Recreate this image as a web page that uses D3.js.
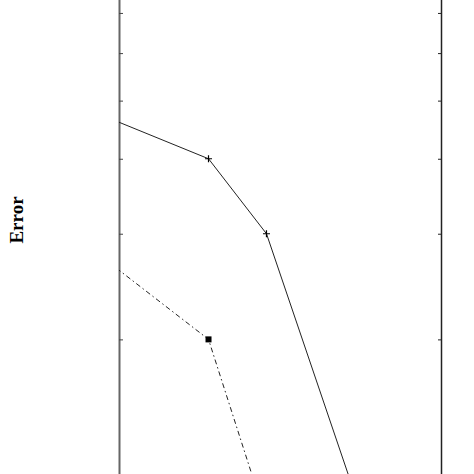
<!DOCTYPE html>
<html>
<head>
<meta charset="utf-8">
<script src="https://cdn.jsdelivr.net/npm/d3@7"></script>
<style>
  body { margin: 0; background: #fff; }
  svg { display: block; }
</style>
</head>
<body>
<svg width="474" height="474"></svg>
<script>
// values (log y axis, crop of a larger figure)
const xVals = [-1, 2.78, 4.58, 7.6];
const errSolid = [4.84, 4.0, 3.0, 1.0];
const errDashDot = [2.87, 2.0, 1.0];
const yTicks = [2, 3, 4, 5, 6, 7];

const svg = d3.select('svg');

const x = d3.scaleLinear().domain([0, 10]).range([119, 441]);
const y = d3.scaleLog().domain([1, 10]).range([520, -80]);

svg.append('rect').attr('width', 474).attr('height', 474).attr('fill', '#fff');

svg.append('clipPath').attr('id', 'plot')
    .append('rect')
    .attr('x', x(0)).attr('y', -100)
    .attr('width', x(10) - x(0)).attr('height', 700);

// axes, ticks inward, no labels visible in the crop
const left = svg.append('g')
    .attr('transform', `translate(${x(0)},0)`)
    .call(d3.axisLeft(y).tickValues(yTicks).tickSize(-4).tickSizeOuter(0).tickFormat(''));
left.select('.domain').attr('stroke', '#666').attr('stroke-width', 2);
left.selectAll('.tick line').attr('stroke', '#444');

const right = svg.append('g')
    .attr('transform', `translate(${x(10)},0)`)
    .call(d3.axisRight(y).tickValues(yTicks).tickSize(-3).tickSizeOuter(0).tickFormat(''));
right.select('.domain').attr('stroke', '#222').attr('stroke-width', 1.5);
right.selectAll('.tick line').attr('stroke', '#222');

const plot = svg.append('g').attr('clip-path', 'url(#plot)');

const solidPts = errSolid.map((v, i) => [xVals[i], v]);
const dashPts = errDashDot.map((v, i) => [xVals[i], v]);

const line = d3.line().x(d => x(d[0])).y(d => y(d[1]));

plot.append('path')
    .attr('d', line(solidPts))
    .attr('fill', 'none').attr('stroke', '#222').attr('stroke-width', 1);

plot.append('path')
    .attr('d', line(dashPts))
    .attr('fill', 'none').attr('stroke', '#222').attr('stroke-width', 1)
    .attr('stroke-dasharray', '5,3,1.5,3');

// + markers
plot.selectAll('path.plus')
    .data(solidPts)
    .join('path')
    .attr('class', 'plus')
    .attr('d', d => {
        const cx = x(d[0]), cy = y(d[1]);
        return `M${cx - 3.5},${cy}H${cx + 3.5}M${cx},${cy - 3.5}V${cy + 3.5}`;
    })
    .attr('stroke', '#000').attr('stroke-width', 1.2);

// square markers
plot.selectAll('rect.sq')
    .data(dashPts)
    .join('rect')
    .attr('class', 'sq')
    .attr('x', d => x(d[0]) - 3).attr('y', d => y(d[1]) - 3)
    .attr('width', 6).attr('height', 6)
    .attr('fill', '#000');

svg.append('text')
    .attr('transform', 'translate(23,220) rotate(-90)')
    .attr('text-anchor', 'middle')
    .attr('font-family', '"Liberation Serif", "Times New Roman", serif')
    .attr('font-weight', 'bold')
    .attr('font-size', 19)
    .attr('fill', '#000')
    .text('Error');
</script>
</body>
</html>
